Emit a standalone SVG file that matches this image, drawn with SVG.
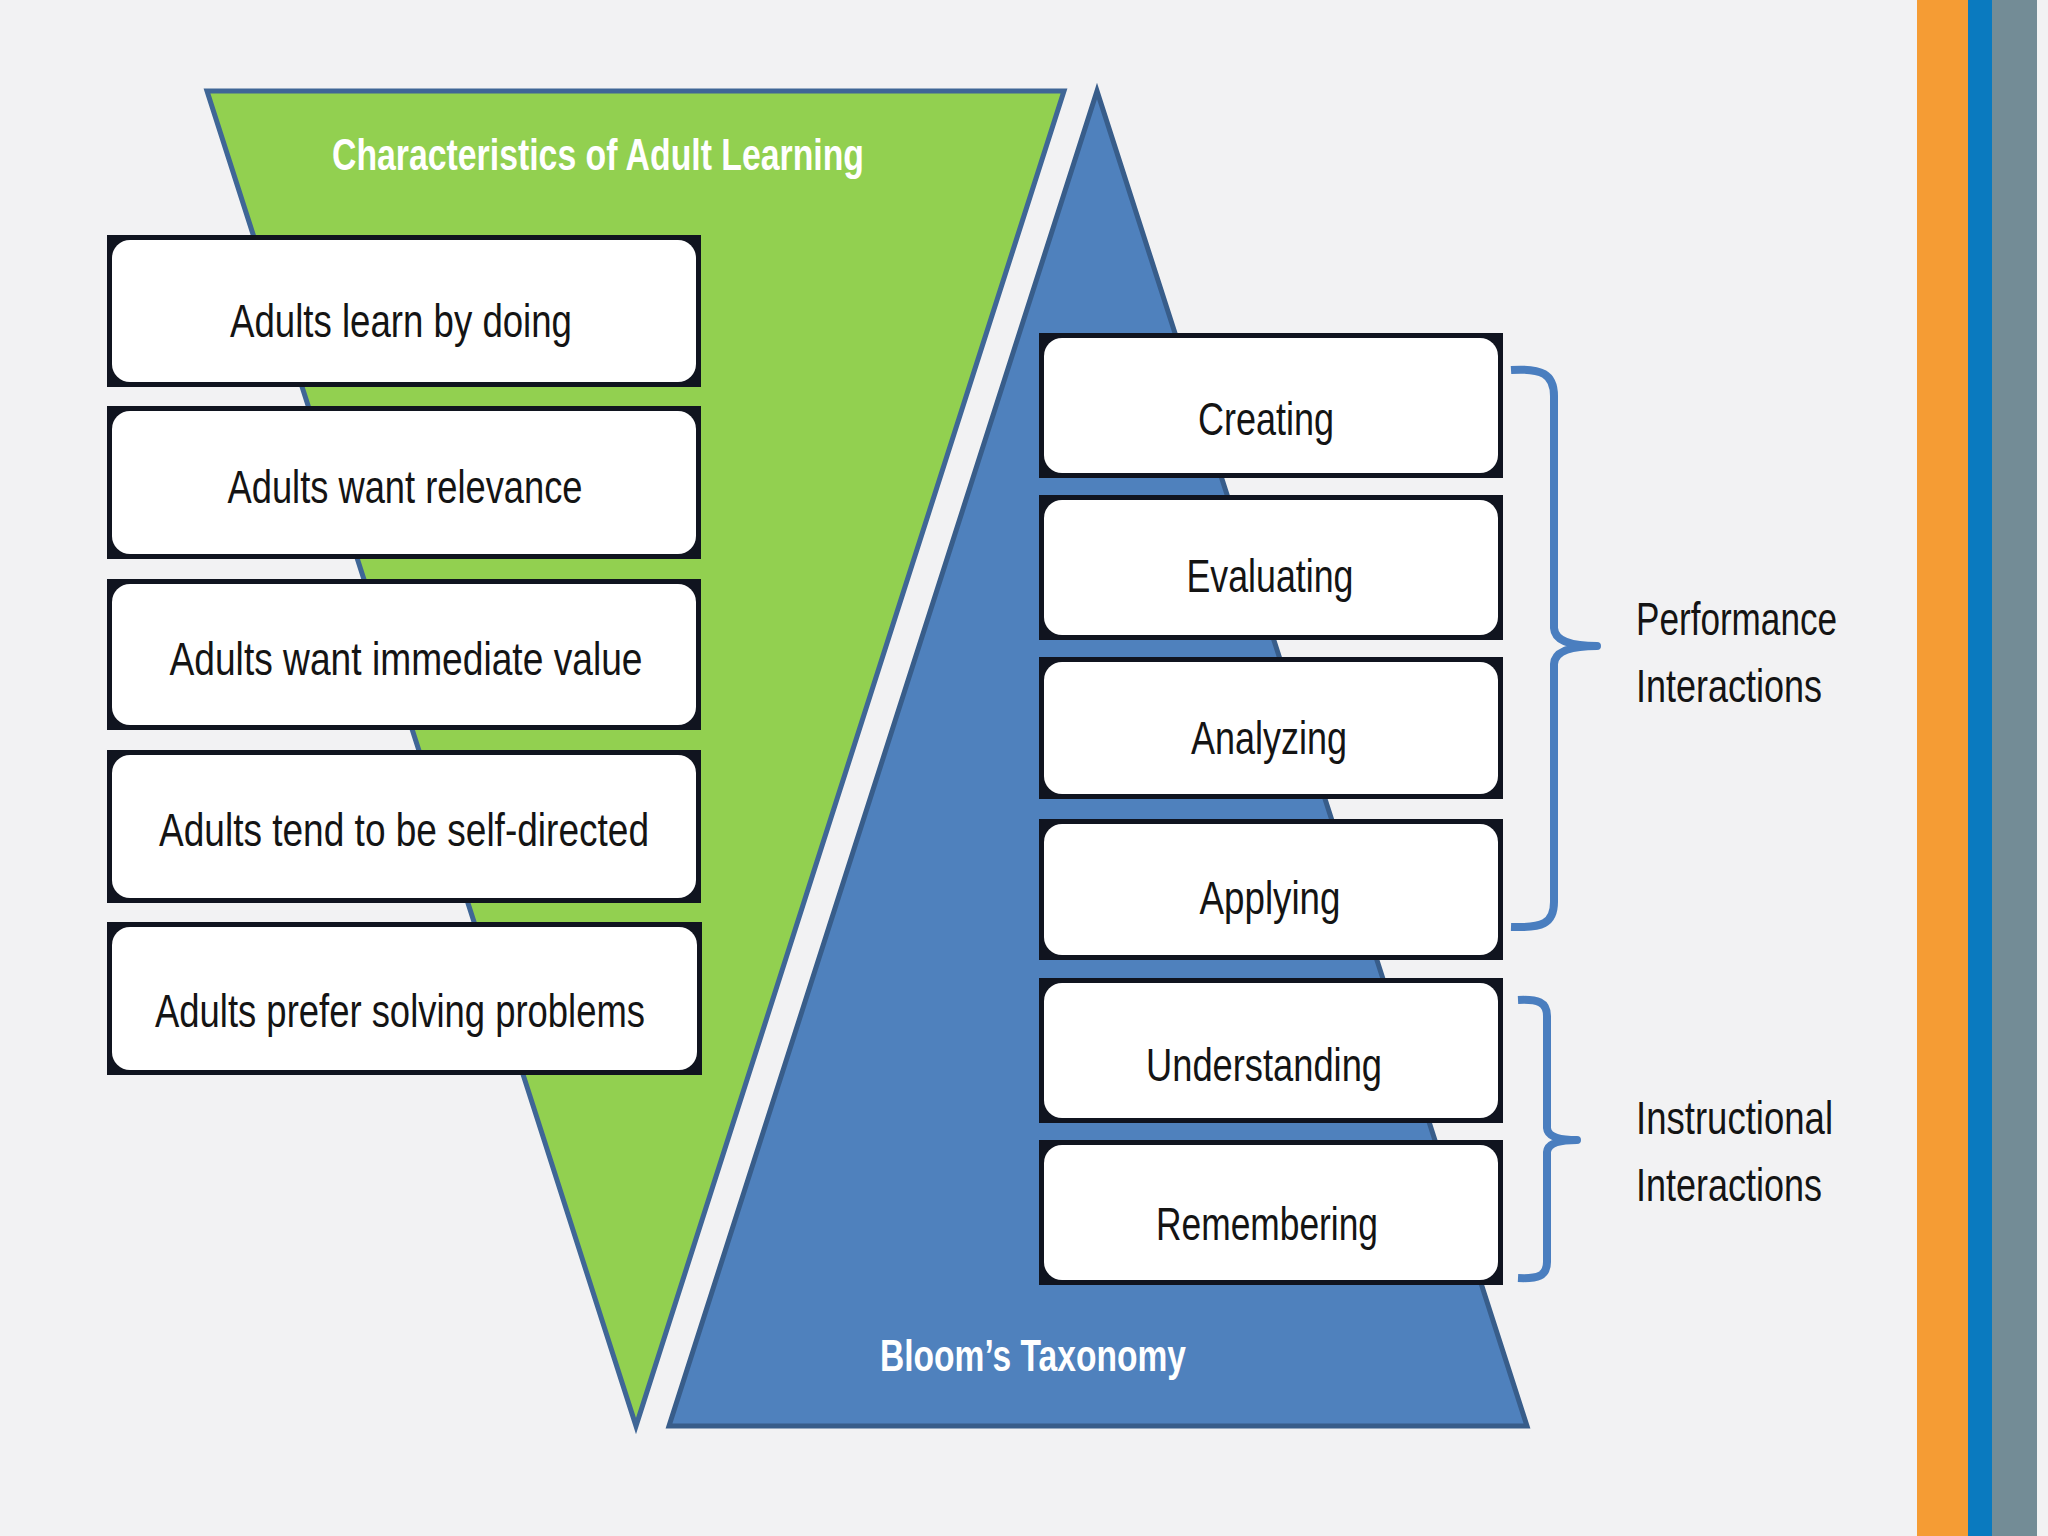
<svg xmlns="http://www.w3.org/2000/svg" width="2048" height="1536" viewBox="0 0 2048 1536">
<style>
.frame{fill:#10141f}
.inner{fill:#ffffff}
.lbl{font-family:"Liberation Sans",Arial,sans-serif;font-size:46px;fill:#141414;text-anchor:middle}
.side{font-family:"Liberation Sans",Arial,sans-serif;font-size:46px;fill:#141414}
.ttl{font-family:"Liberation Sans",Arial,sans-serif;font-size:44px;font-weight:bold;fill:#ffffff;text-anchor:middle}
.brace{fill:none;stroke:#4a7ebf;stroke-width:8;stroke-linecap:butt;stroke-linejoin:round}
</style>
<rect x="0" y="0" width="2048" height="1536" fill="#f2f2f3"/>
<g id="stripes">
<rect x="1917" y="0" width="51" height="1536" fill="#f59c34"/>
<rect x="1968" y="0" width="24" height="1536" fill="#0a7abf"/>
<rect x="1992" y="0" width="45" height="1536" fill="#738c96"/>
</g>
<g id="adult-learning-triangle">
<polygon points="207,91 1064,91 636,1426" fill="#92d050" stroke="#3f6696" stroke-width="5" stroke-linejoin="miter"/>
<text class="ttl" x="598" y="170" textLength="532" lengthAdjust="spacingAndGlyphs">Characteristics of Adult Learning</text>
</g>
<g id="blooms-triangle">
<polygon points="1097,91 669,1426 1527,1426" fill="#4f81bd" stroke="#385d8a" stroke-width="5" stroke-linejoin="miter"/>
<text class="ttl" x="1033" y="1371" textLength="306" lengthAdjust="spacingAndGlyphs">Bloom’s Taxonomy</text>
</g>
<g id="node-doing">
<rect class="frame" x="107" y="235" width="594" height="152"/>
<rect class="inner" x="112" y="240" width="584" height="142" rx="18"/>
<text class="lbl" x="401" y="337" textLength="342" lengthAdjust="spacingAndGlyphs">Adults learn by doing</text>
</g>
<g id="node-relevance">
<rect class="frame" x="107" y="406" width="594" height="153"/>
<rect class="inner" x="112" y="411" width="584" height="143" rx="18"/>
<text class="lbl" x="405" y="503" textLength="355" lengthAdjust="spacingAndGlyphs">Adults want relevance</text>
</g>
<g id="node-value">
<rect class="frame" x="107" y="579" width="594" height="151"/>
<rect class="inner" x="112" y="584" width="584" height="141" rx="18"/>
<text class="lbl" x="406" y="675" textLength="473" lengthAdjust="spacingAndGlyphs">Adults want immediate value</text>
</g>
<g id="node-self-directed">
<rect class="frame" x="107" y="750" width="594" height="153"/>
<rect class="inner" x="112" y="755" width="584" height="143" rx="18"/>
<text class="lbl" x="404" y="846" textLength="490" lengthAdjust="spacingAndGlyphs">Adults tend to be self-directed</text>
</g>
<g id="node-problems">
<rect class="frame" x="107" y="922" width="595" height="153"/>
<rect class="inner" x="112" y="927" width="585" height="143" rx="18"/>
<text class="lbl" x="400" y="1027" textLength="490" lengthAdjust="spacingAndGlyphs">Adults prefer solving problems</text>
</g>
<g id="node-creating">
<rect class="frame" x="1039" y="333" width="464" height="145"/>
<rect class="inner" x="1044" y="338" width="454" height="135" rx="18"/>
<text class="lbl" x="1266" y="435" textLength="136" lengthAdjust="spacingAndGlyphs">Creating</text>
</g>
<g id="node-evaluating">
<rect class="frame" x="1039" y="495" width="464" height="145"/>
<rect class="inner" x="1044" y="500" width="454" height="135" rx="18"/>
<text class="lbl" x="1270" y="592" textLength="167" lengthAdjust="spacingAndGlyphs">Evaluating</text>
</g>
<g id="node-analyzing">
<rect class="frame" x="1039" y="657" width="464" height="142"/>
<rect class="inner" x="1044" y="662" width="454" height="132" rx="18"/>
<text class="lbl" x="1269" y="754" textLength="156" lengthAdjust="spacingAndGlyphs">Analyzing</text>
</g>
<g id="node-applying">
<rect class="frame" x="1039" y="819" width="464" height="141"/>
<rect class="inner" x="1044" y="824" width="454" height="131" rx="18"/>
<text class="lbl" x="1270" y="914" textLength="141" lengthAdjust="spacingAndGlyphs">Applying</text>
</g>
<g id="node-understanding">
<rect class="frame" x="1039" y="978" width="464" height="145"/>
<rect class="inner" x="1044" y="983" width="454" height="135" rx="18"/>
<text class="lbl" x="1264" y="1081" textLength="236" lengthAdjust="spacingAndGlyphs">Understanding</text>
</g>
<g id="node-remembering">
<rect class="frame" x="1039" y="1140" width="464" height="145"/>
<rect class="inner" x="1044" y="1145" width="454" height="135" rx="18"/>
<text class="lbl" x="1267" y="1240" textLength="222" lengthAdjust="spacingAndGlyphs">Remembering</text>
</g>
<g id="connectors">
<path class="brace" d="M1511,370 C1542,368 1554,374 1554,396 L1554,628 Q1555,646 1597,646 Q1555,646 1554,664 L1554,902 C1554,924 1542,928 1511,927"/>
<path class="brace" d="M1518,1000 C1538,999 1547,1002 1547,1016 L1547,1128 Q1548,1140 1577,1140 Q1548,1140 1547,1152 L1547,1262 C1547,1276 1538,1279 1518,1278"/>
</g>
<g id="group-labels">
<text class="side" x="1636" y="635" textLength="201" lengthAdjust="spacingAndGlyphs">Performance</text>
<text class="side" x="1636" y="702" textLength="186" lengthAdjust="spacingAndGlyphs">Interactions</text>
<text class="side" x="1636" y="1134" textLength="197" lengthAdjust="spacingAndGlyphs">Instructional</text>
<text class="side" x="1636" y="1201" textLength="186" lengthAdjust="spacingAndGlyphs">Interactions</text>
</g>
</svg>
